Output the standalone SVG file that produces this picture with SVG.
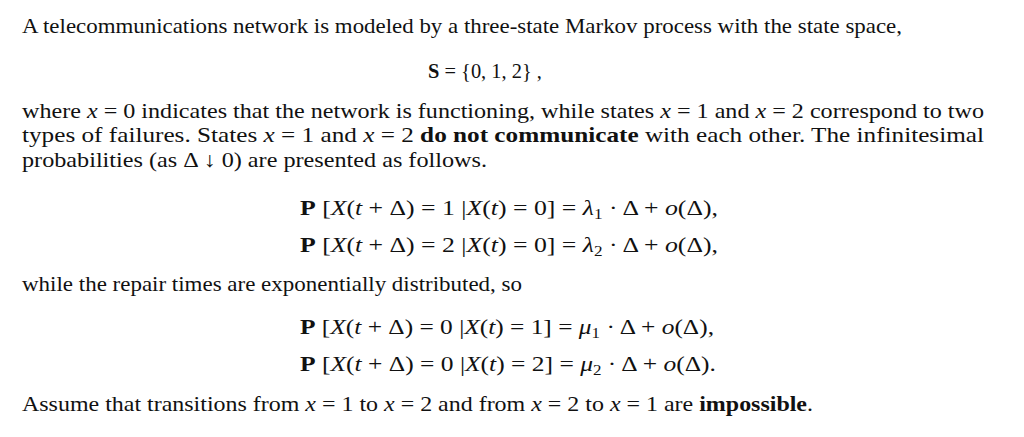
<svg xmlns="http://www.w3.org/2000/svg" width="1024" height="437" viewBox="0 0 1024 437">
<style>
text{font-family:"Liberation Serif","DejaVu Serif",serif;font-size:21px;fill:#111}
.i{font-style:italic}
.b{font-weight:bold}
.s{font-size:14px}
</style>
<rect width="1024" height="437" fill="#fff"/>
<g id="text">
<text x="22" y="33" textLength="880" lengthAdjust="spacingAndGlyphs">A telecommunications network is modeled by a three-state Markov process with the state space,</text>
<text x="428" y="78" textLength="114" lengthAdjust="spacingAndGlyphs"><tspan class="b">S</tspan> = {0, 1, 2} ,</text>
<text x="22" y="118" textLength="962" lengthAdjust="spacingAndGlyphs">where <tspan class="i">x</tspan> = 0 indicates that the network is functioning, while states <tspan class="i">x</tspan> = 1 and <tspan class="i">x</tspan> = 2 correspond to two</text>
<text x="22" y="142" textLength="962" lengthAdjust="spacingAndGlyphs">types of failures.  States <tspan class="i">x</tspan> = 1 and <tspan class="i">x</tspan> = 2 <tspan class="b">do not communicate</tspan> with each other.  The infinitesimal</text>
<text x="22" y="167" textLength="465" lengthAdjust="spacingAndGlyphs">probabilities (as Δ ↓ 0) are presented as follows.</text>
<text x="300" y="215" textLength="418" lengthAdjust="spacingAndGlyphs"><tspan class="b">P</tspan> [<tspan class="i">X</tspan>(<tspan class="i">t</tspan> + Δ) = 1 |<tspan class="i">X</tspan>(<tspan class="i">t</tspan>) = 0] = <tspan class="i">λ</tspan><tspan class="s" dy="4">1</tspan><tspan dy="-4"> · Δ + </tspan><tspan class="i">o</tspan>(Δ),</text>
<text x="300" y="252" textLength="418" lengthAdjust="spacingAndGlyphs"><tspan class="b">P</tspan> [<tspan class="i">X</tspan>(<tspan class="i">t</tspan> + Δ) = 2 |<tspan class="i">X</tspan>(<tspan class="i">t</tspan>) = 0] = <tspan class="i">λ</tspan><tspan class="s" dy="4">2</tspan><tspan dy="-4"> · Δ + </tspan><tspan class="i">o</tspan>(Δ),</text>
<text x="22" y="291" textLength="500" lengthAdjust="spacingAndGlyphs">while the repair times are exponentially distributed, so</text>
<text x="300" y="334" textLength="414" lengthAdjust="spacingAndGlyphs"><tspan class="b">P</tspan> [<tspan class="i">X</tspan>(<tspan class="i">t</tspan> + Δ) = 0 |<tspan class="i">X</tspan>(<tspan class="i">t</tspan>) = 1] = <tspan class="i">μ</tspan><tspan class="s" dy="4">1</tspan><tspan dy="-4"> · Δ + </tspan><tspan class="i">o</tspan>(Δ),</text>
<text x="300" y="371" textLength="416" lengthAdjust="spacingAndGlyphs"><tspan class="b">P</tspan> [<tspan class="i">X</tspan>(<tspan class="i">t</tspan> + Δ) = 0 |<tspan class="i">X</tspan>(<tspan class="i">t</tspan>) = 2] = <tspan class="i">μ</tspan><tspan class="s" dy="4">2</tspan><tspan dy="-4"> · Δ + </tspan><tspan class="i">o</tspan>(Δ).</text>
<text x="22" y="411" textLength="791" lengthAdjust="spacingAndGlyphs">Assume that transitions from <tspan class="i">x</tspan> = 1 to <tspan class="i">x</tspan> = 2 and from <tspan class="i">x</tspan> = 2 to <tspan class="i">x</tspan> = 1 are <tspan class="b">impossible</tspan>.</text>
</g>
</svg>
